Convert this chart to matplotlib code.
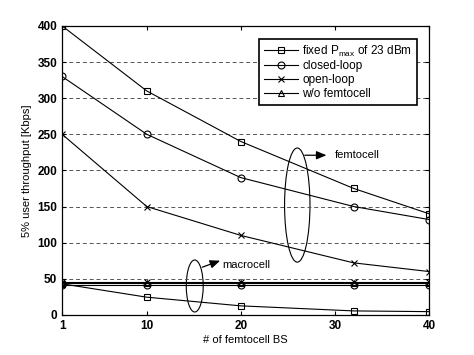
import matplotlib
matplotlib.use("Agg")
import matplotlib.pyplot as plt
from matplotlib.patches import Ellipse

plt.rcParams["font.family"] = ["Liberation Sans", "DejaVu Sans"]
plt.rcParams["mathtext.default"] = "regular"

# number of femtocell BS
x_pts = [1, 10, 20, 32, 40]

# femtocell user throughput [Kbps]
femto_fixed = [400, 310, 240, 175, 140]
femto_closed = [330, 250, 190, 150, 132]
femto_open = [250, 150, 110, 72, 60]

# macrocell user throughput [Kbps]
macro_fixed = [43, 24.5, 12.5, 5.5, 4.5]
macro_closed = [42, 42, 42, 42, 42]
macro_open = [45, 45, 45, 45, 45]
macro_none = [44, 44, 44, 44, 44]

XTICKS = [1, 10, 20, 30, 40]
YTICKS = [0, 50, 100, 150, 200, 250, 300, 350, 400]

fig = plt.figure(figsize=(4.74, 3.55), dpi=100)
ax = fig.add_axes([0.131, 0.113, 0.774, 0.814])

PLOTARGS = {"color": "black", "lw": 0.8, "ms": 5, "mfc": "none", "mew": 0.8}

ax.plot(x_pts, femto_fixed, marker="s", label=r"fixed P$_{max}$ of 23 dBm", **PLOTARGS)
ax.plot(x_pts, femto_closed, marker="o", label="closed-loop", **PLOTARGS)
ax.plot(x_pts, femto_open, marker="x", label="open-loop", **PLOTARGS)
ax.plot(x_pts, macro_none, marker="^", label="w/o femtocell", **PLOTARGS)
ax.plot(x_pts, macro_fixed, marker="s", **PLOTARGS)
ax.plot(x_pts, macro_closed, marker="o", **PLOTARGS)
ax.plot(x_pts, macro_open, marker="x", **PLOTARGS)

ax.set_xlim(1, 40)
ax.set_ylim(0, 400)
ax.set_xticks(XTICKS)
ax.set_yticks(YTICKS)
ax.tick_params(direction="in", top=True, right=True, length=3, labelsize=8.5)
for lab in ax.get_xticklabels() + ax.get_yticklabels():
    lab.set_fontweight("bold")
ax.yaxis.grid(True, linestyle=(0, (4, 3)), color="#555555", lw=0.7)
for s in ax.spines.values():
    s.set_linewidth(0.9)

ax.set_xlabel("# of femtocell BS", fontsize=8, labelpad=2)
ax.set_ylabel("5% user throughput [Kbps]", fontsize=8, labelpad=4)

# annotations
ARROW = dict(arrowstyle="-|>,head_length=0.6,head_width=0.25", color="black",
             lw=0.9, shrinkA=0, shrinkB=0)
ax.add_patch(Ellipse((26, 152), 2.7, 158, fill=False, lw=0.8, color="black"))
ax.annotate("", xy=(29.1, 221), xytext=(26.8, 221), arrowprops=ARROW)
ax.text(30.0, 221, "femtocell", fontsize=8, va="center")

ax.add_patch(Ellipse((15.1, 40), 1.8, 72, fill=False, lw=0.8, color="black"))
ax.annotate("", xy=(17.8, 75), xytext=(15.9, 66), arrowprops=ARROW)
ax.text(18.0, 69, "macrocell", fontsize=8, va="center")

leg = ax.legend(loc="upper right", bbox_to_anchor=(0.984, 0.976), fontsize=8.5,
                handlelength=2.9, handletextpad=0.4, labelspacing=0.15,
                borderpad=0.4, fancybox=False, framealpha=1)
leg.get_frame().set_edgecolor("black")
leg.get_frame().set_linewidth(1.2)

fig.savefig("out.png", dpi=100)
